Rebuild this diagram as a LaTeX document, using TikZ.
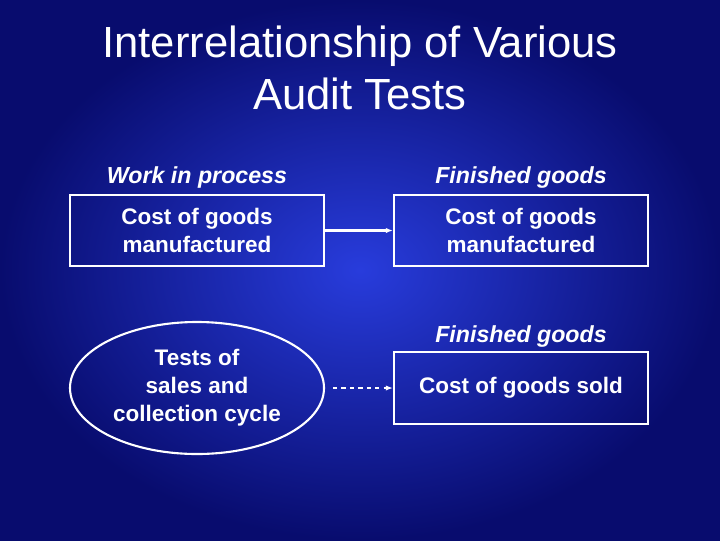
\documentclass[tikz,border=0pt]{standalone}
\usepackage{fontspec}
\setmainfont{Liberation Sans}
\usetikzlibrary{shapes.geometric,arrows.meta}
\begin{document}
\begin{tikzpicture}[x=0.025cm,y=-0.025cm,
  box/.style={draw=white,line width=1.5pt,minimum width=254*0.025cm,minimum height=71*0.025cm,align=center,text=white,font=\fontsize{16}{20}\selectfont\bfseries},
  lab/.style={text=white,font=\fontsize{16.5}{18}\selectfont\bfseries\itshape},
  conn/.style={draw=white,line width=1.6pt,-{Latex[length=5pt]}}]
\useasboundingbox (0,0) rectangle (720,540);
\shade[inner color={rgb,255:red,40;green,60;blue,220},outer color={rgb,255:red,8;green,12;blue,110}] (0,0) rectangle (720,540);
\node[text=white,align=center,font=\fontsize{31}{37}\selectfont] (title) at (360,68) {Interrelationship of Various\\Audit Tests};
\node[lab] (l1) at (197,177) {Work in process};
\node[lab] (l2) at (521,177) {Finished goods};
\node[lab] (l3) at (521,336) {Finished goods};
\node[box] (a) at (197,230.5) {Cost of goods\\manufactured};
\node[box] (b) at (521,230.5) {Cost of goods\\manufactured};
\node[box,minimum height=72*0.025cm] (c) at (521,388) {Cost of goods sold};
\node[draw=white,line width=1.5pt,ellipse,minimum width=254*0.025cm,minimum height=132*0.025cm,inner sep=0pt,align=center,text=white,font=\fontsize{16}{20}\selectfont\bfseries] (e) at (197,388) {Tests of\\sales and\\collection cycle};
\draw[conn] (a) -- (b);
\draw[conn,dashed] ([xshift=8*0.025cm]e.east) -- (c.west);
\end{tikzpicture}
\end{document}
